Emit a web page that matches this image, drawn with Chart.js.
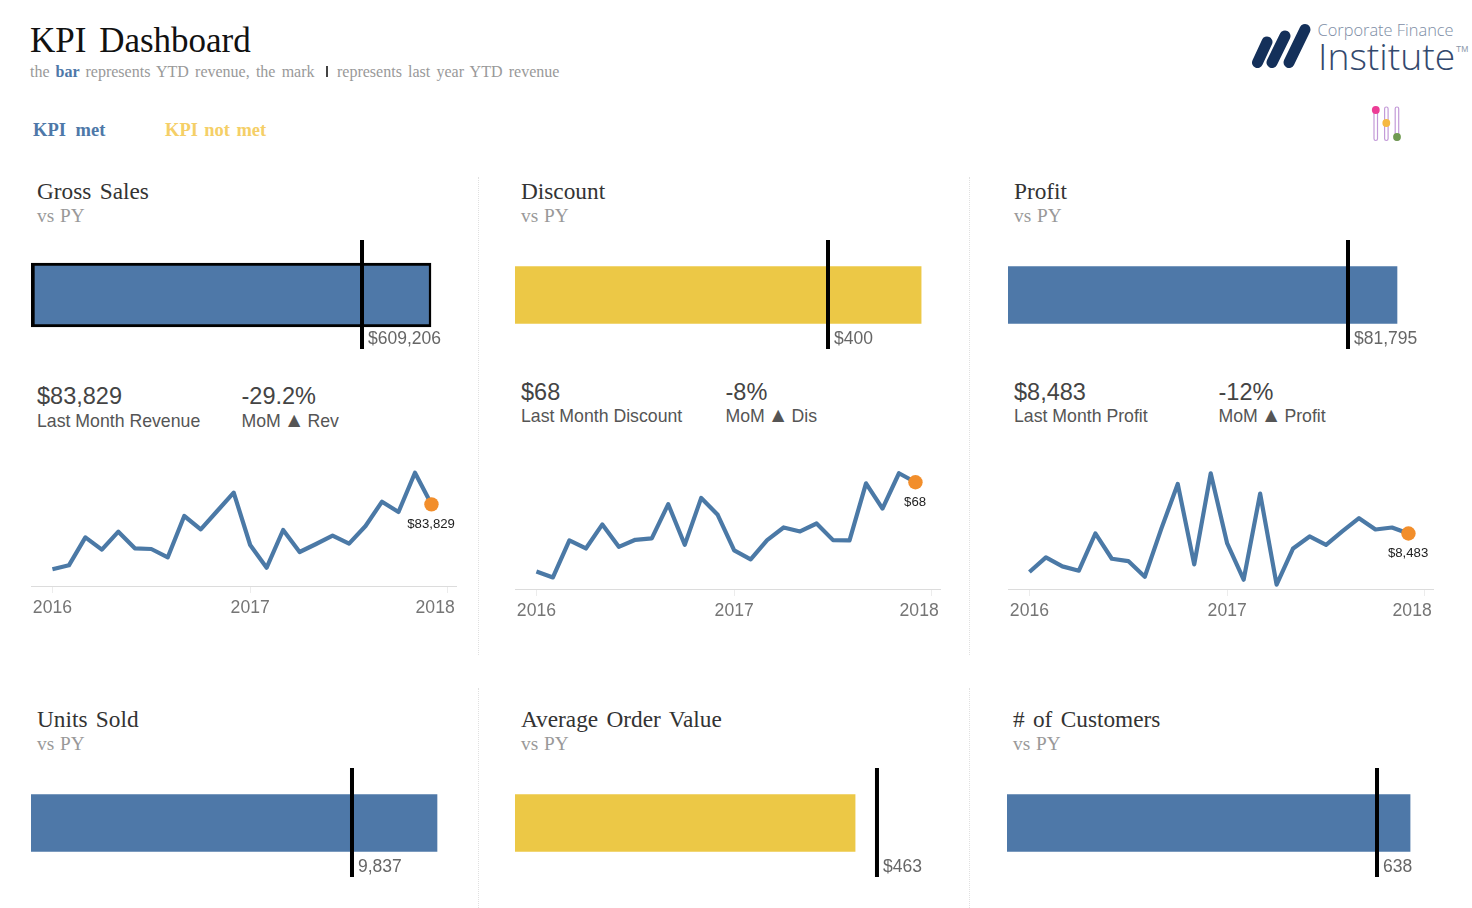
<!DOCTYPE html>
<html>
<head>
<meta charset="utf-8">
<title>KPI Dashboard</title>
<script src="https://cdn.jsdelivr.net/npm/chart.js@4"></script>
<style>
  html, body { margin: 0; background: #fff; width: 1472px; height: 908px; overflow: hidden; }
  .t { position: absolute; white-space: nowrap; line-height: 1; }
  .serif { font-family: "Liberation Serif", serif; }
  .sans { font-family: "Liberation Sans", sans-serif; }
  .sep { position: absolute; width: 0; border-left: 1px dotted #e0e0e0; }
  canvas { position: absolute; display: block; }
</style>
</head>
<body>
<div id="page"></div>
<script>
// KPI names and figures
const kpiTitles = ["Gross Sales", "Discount", "Profit", "Units Sold", "Average Order Value", "# of Customers"];
const barValues = [736200, 519, 93583, 12442, 435, 695];
const priorYearValues = [609206, 400, 81795, 9837, 463, 638];
const priorYearLabels = ["$609,206", "$400", "$81,795", "9,837", "$463", "638"];
const kpiMet = [true, false, true, true, false, true];
const axisMaximums = [809800, 562.3, 105853, 13484, 562.8, 758.7];

// Monthly trend, Jan 2016 to Dec 2017
const revenueTrend = [12712, 17089, 47724, 34230, 53924, 35689, 34959, 25842, 71064, 56477, 76535, 96594,
                      39336, 14536, 55747, 31677, 40430, 49547, 40794, 60124, 86747, 75441, 118402, 83829];
const discountTrend = [9.4, 5.5, 29.8, 24.5, 40.3, 25.6, 30.2, 31.1, 53.6, 26.9, 57.7, 46.6,
                       23.2, 17.3, 30, 38.3, 35.7, 40.9, 30, 29.8, 67.3, 50.7, 73.9, 68];
const profitTrend = [1024, 3853, 2117, 1281, 8483, 3596, 3146, 124, 9383, 18064, 2503, 20121,
                     6554, -455, 16199, -1419, 5589, 7904, 6297, 8933, 11441, 9255, 9640, 8483];
const trendLabels = ["$83,829", "$68", "$8,483"];
const trendRanges = [[-5523, 132334], [-2.1, 82.6], [-2255, 22693]];
const yearTicks = [0, 12, 24];
const yearLabels = ["2016", "2017", "2018"];

// Last-month callouts
const lastMonthValues = ["$83,829", "$68", "$8,483"];
const lastMonthCaptions = ["Last Month Revenue", "Last Month Discount", "Last Month Profit"];
const momValues = ["-29.2%", "-8%", "-12%"];
const momMeasures = ["Rev", "Dis", "Profit"];

// Palette
const BLUE = "#4e78a8", LINE_BLUE = "#4b79a6", YELLOW = "#ecc846", ORANGE = "#f28e2b";

// Panel layout
const barLefts = [31, 515, 1008, 31, 515, 1007];
const barTops = [240, 240, 240, 768, 768, 768];
const textLefts = [37, 521, 1014, 37, 521, 1013];
const titleTops = [180, 180, 180, 708, 708, 708];
const trendLefts = [31, 515, 1008];
const trendBottoms = [586, 589, 589];
const calloutTops = [385, 381, 381];
const captionTops = [413, 408, 408];

const page = document.getElementById("page");

function addText(text, left, top, size, color, family, extra) {
  const el = document.createElement("div");
  el.className = "t " + family;
  el.textContent = text;
  el.style.cssText = `left:${left}px;top:${top}px;font-size:${size}px;color:${color};${extra || ""}`;
  page.appendChild(el);
  return el;
}

function addCanvas(left, top, width, height) {
  const c = document.createElement("canvas");
  c.width = width; c.height = height;
  c.style.cssText = `left:${left}px;top:${top}px;width:${width}px;height:${height}px`;
  page.appendChild(c);
  return c;
}

// Header text
addText("KPI Dashboard", 30, 23, 35, "#111", "serif", "word-spacing:4px");
addText("the", 30, 64, 16, "#999", "serif");
addText("bar", 55.5, 64, 16, BLUE, "serif", "font-weight:bold");
addText("represents YTD revenue, the mark", 85.5, 64, 16, "#999", "serif", "word-spacing:2.2px");
addText("represents last year YTD revenue", 337, 64, 16, "#999", "serif", "word-spacing:2.2px");
const markKey = document.createElement("div");
markKey.style.cssText = "position:absolute;left:326px;top:66px;width:2px;height:11px;background:#444";
page.appendChild(markKey);
addText("KPI met", 33, 120.5, 18.5, BLUE, "serif", "font-weight:bold;word-spacing:5px");
addText("KPI not met", 165, 120.5, 18.5, "#f5cf67", "serif", "font-weight:bold;word-spacing:1.8px");

// Company mark and the filter icon
page.insertAdjacentHTML("beforeend", `
<svg style="position:absolute;left:0;top:0" width="1472" height="908" xmlns="http://www.w3.org/2000/svg">
  <g stroke="#14305a" stroke-width="11" stroke-linecap="round" fill="none">
    <line x1="1257.5" y1="62.5" x2="1267" y2="42"/>
    <line x1="1272" y1="62.5" x2="1285" y2="36"/>
    <line x1="1289" y1="62.5" x2="1305" y2="29.5"/>
  </g>
  <g fill="none" stroke="#c39ad8" stroke-width="1.2">
    <rect x="1374" y="107" width="3.5" height="33.5" rx="1.7"/>
    <rect x="1384.6" y="107" width="3.5" height="33.5" rx="1.7"/>
    <rect x="1395.2" y="107" width="3.5" height="33.5" rx="1.7"/>
  </g>
  <circle cx="1375.8" cy="110" r="3.9" fill="#ec3c96"/>
  <circle cx="1386.3" cy="123" r="3.9" fill="#f5b942"/>
  <circle cx="1397" cy="137" r="3.9" fill="#6f9a50"/>
</svg>`);
addText("Corporate Finance", 1317.5, 22, 16.4, "#7d8da5", "", "font-family:'Open Sans',sans-serif;font-weight:300");
addText("Institute", 1318, 37, 37.3, "#33496d", "", "font-family:'Open Sans',sans-serif;font-weight:300");
addText("TM", 1456, 45, 8.5, "#8a97aa", "sans");

// Dotted panel separators
[[478, 177, 478], [969, 177, 478], [478, 688, 220], [969, 688, 220]].forEach(([l, t, h]) => {
  const s = document.createElement("div");
  s.className = "sep";
  s.style.cssText = `left:${l}px;top:${t}px;height:${h}px`;
  page.appendChild(s);
});

// Panel headings
kpiTitles.forEach((title, i) => {
  addText(title, textLefts[i], titleTops[i], 23.3, "#333", "serif", "word-spacing:2.5px");
  addText("vs PY", textLefts[i], titleTops[i] + 26, 19.3, "#999", "serif", "word-spacing:1px");
});

// Draws the prior-year mark and its label from the value scale
const priorYearMark = {
  id: "priorYearMark",
  afterDatasetsDraw(chart, _args, opts) {
    const { ctx, chartArea, scales } = chart;
    const x = scales.x.getPixelForValue(opts.value);
    ctx.save();
    ctx.fillStyle = "#000";
    ctx.fillRect(x - 2, chartArea.top, 4, chartArea.bottom - chartArea.top - 1);
    ctx.fillStyle = "#666";
    ctx.font = '17.5px "Liberation Sans"';
    ctx.textBaseline = "middle";
    ctx.fillText(opts.label, x + 6, chartArea.bottom - 10.5);
    ctx.restore();
  }
};

// Year labels under the trend axis, with the last one kept inside the panel
const yearAxisLabels = {
  id: "yearAxisLabels",
  afterDraw(chart) {
    const { ctx, chartArea, scales } = chart;
    const sx = scales.x;
    ctx.save();
    ctx.fillStyle = "#757575";
    ctx.font = '17.6px "Liberation Sans"';
    ctx.textBaseline = "middle";
    sx.ticks.forEach((tick, i) => {
      const last = i === sx.ticks.length - 1;
      ctx.textAlign = last ? "right" : "center";
      const px = last ? sx.right - 2.3 : sx.getPixelForTick(i);
      ctx.fillText(tick.label, px, chartArea.bottom + 22.5);
    });
    ctx.restore();
  }
};

// Value label below the final point of a trend line
const endPointLabel = {
  id: "endPointLabel",
  afterDatasetsDraw(chart, _args, opts) {
    const points = chart.getDatasetMeta(0).data;
    const p = points[points.length - 1];
    const { ctx } = chart;
    ctx.save();
    ctx.fillStyle = "#222";
    ctx.font = '13.2px "Liberation Sans"';
    ctx.textAlign = "center";
    ctx.textBaseline = "middle";
    ctx.fillText(opts.label, p.x - 0.4, p.y + 20);
    ctx.restore();
  }
};

// Bullet bars
kpiTitles.forEach((title, i) => {
  const hasOutline = i === 0;
  new Chart(addCanvas(barLefts[i], barTops[i], 440, 110), {
    type: "bar",
    data: {
      labels: [title],
      datasets: [{
        data: [barValues[i]],
        backgroundColor: kpiMet[i] ? BLUE : YELLOW,
        barThickness: hasOutline ? 64 : 57,
        borderColor: "#000",
        borderSkipped: false,
        borderWidth: hasOutline ? { top: 3, right: 2.5, bottom: 3, left: 4 } : 0
      }]
    },
    options: {
      indexAxis: "y",
      responsive: false,
      animation: false,
      devicePixelRatio: 1,
      layout: { padding: 0, autoPadding: false },
      scales: {
        x: { display: false, min: 0, max: axisMaximums[i] },
        y: { display: false }
      },
      plugins: {
        legend: { display: false },
        tooltip: { enabled: false },
        priorYearMark: { value: priorYearValues[i], label: priorYearLabels[i] }
      }
    },
    plugins: [priorYearMark]
  });
});

// Callouts and trend lines
[revenueTrend, discountTrend, profitTrend].forEach((series, i) => {
  addText(lastMonthValues[i], textLefts[i], calloutTops[i], 23.5, "#444", "sans");
  addText(lastMonthCaptions[i], textLefts[i], captionTops[i], 17.7, "#555", "sans");
  addText(momValues[i], textLefts[i] + 204.5, calloutTops[i], 23.5, "#444", "sans");
  const mom = addText("MoM ", textLefts[i] + 204.5, captionTops[i], 17.7, "#555", "sans");
  const arrow = document.createElement("span");
  arrow.textContent = "\u25B2";
  arrow.style.cssText = "font-size:21px;line-height:0;margin:0 -2px";
  mom.append(arrow, " " + momMeasures[i]);

  const top = 460;
  const footer = 40;
  const lastIndex = series.length - 1;
  new Chart(addCanvas(trendLefts[i], top, 426, trendBottoms[i] - top + footer), {
    type: "line",
    data: {
      datasets: [{
        data: series.map((v, m) => ({ x: m, y: v })),
        borderColor: LINE_BLUE,
        borderWidth: 4.2,
        borderJoinStyle: "round",
        tension: 0,
        clip: false,
        pointRadius: ctx => (ctx.dataIndex === lastIndex ? 7.2 : 0),
        pointBackgroundColor: ORANGE,
        pointBorderWidth: 0
      }]
    },
    options: {
      responsive: false,
      animation: false,
      devicePixelRatio: 1,
      parsing: false,
      layout: { padding: 0, autoPadding: false },
      scales: {
        x: {
          type: "linear",
          min: -1.3,
          max: 24.55,
          afterFit: s => { s.height = footer; },
          afterBuildTicks: s => { s.ticks = yearTicks.map(v => ({ value: v })); },
          border: { display: true, color: "#dcdcdc", dash: [3, 3] },
          grid: { display: true, drawOnChartArea: false, drawTicks: true, tickLength: 7, color: "#ececec" },
          ticks: { display: false, callback: v => yearLabels[yearTicks.indexOf(v)] }
        },
        y: { display: false, min: trendRanges[i][0], max: trendRanges[i][1] }
      },
      plugins: {
        legend: { display: false },
        tooltip: { enabled: false },
        endPointLabel: { label: trendLabels[i] }
      }
    },
    plugins: [yearAxisLabels, endPointLabel]
  });
});
</script>
</body>
</html>
